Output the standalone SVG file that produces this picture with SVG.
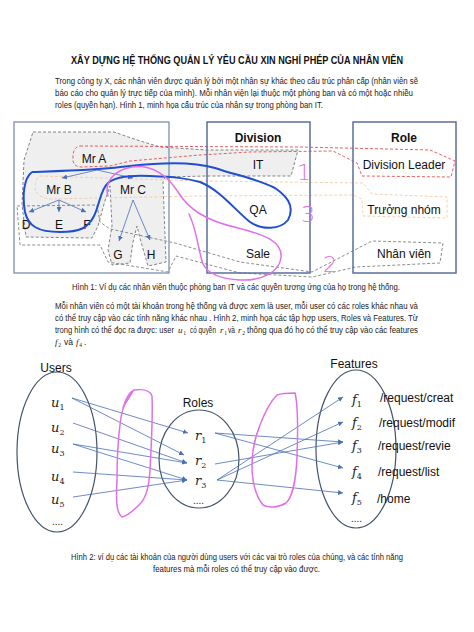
<svg xmlns="http://www.w3.org/2000/svg" width="474" height="632" viewBox="0 0 474 632">
<defs>
<marker id="ah" viewBox="0 0 6 6" refX="6" refY="3" markerUnits="userSpaceOnUse" markerWidth="5" markerHeight="5" orient="auto"><path d="M0,0 L6,3 L0,6 z" fill="#4a6fb5"/></marker>
<style>
.body{font-family:"Liberation Sans",Arial,sans-serif;font-size:8.5px;fill:#222}
.bm{font-family:"Liberation Serif",serif;font-style:italic;font-size:9px;fill:#222}
.bs{font-size:5.5px;font-style:normal}
.cap{font-family:"Liberation Sans",Arial,sans-serif;font-size:8.2px;fill:#222}
.title{font-family:"Liberation Sans",Arial,sans-serif;font-size:10px;font-weight:bold;fill:#111}
.lbl{font-family:"Liberation Sans",Arial,sans-serif;font-size:12px;fill:#111;text-anchor:middle}
.hdr{font-family:"Liberation Sans",Arial,sans-serif;font-size:12px;font-weight:bold;fill:#111;text-anchor:middle}
.math{font-family:"DejaVu Serif","Liberation Serif",serif;font-style:italic;font-size:13px;fill:#222}
.sub{font-size:8px;font-style:normal}
.dots{font-family:"Liberation Sans",Arial,sans-serif;font-size:10px;fill:#222}
.path{font-family:"Liberation Sans",Arial,sans-serif;font-size:12px;fill:#111}
.frame1{fill:none;stroke:#8896b5;stroke-width:1.4}
.frame2{fill:none;stroke:#5a6e9c;stroke-width:1.5}
.ell{fill:none;stroke:#44546a;stroke-width:1.2}
.arr{stroke:#4a6fb5;stroke-width:0.8;fill:none;marker-end:url(#ah)}
.dgray{fill:#efefef;stroke:#5f6670;stroke-width:0.8;stroke-dasharray:3 2}
.dgray2{fill:none;stroke:#6b7568;stroke-width:0.8;stroke-dasharray:3 2}
.dred{fill:none;stroke:#e0383a;stroke-width:0.8;stroke-dasharray:3 2}
.dpeach{fill:none;stroke:#f2c49a;stroke-width:0.8;stroke-dasharray:3 2}
.blue{fill:none;stroke:#1f4fd0;stroke-width:2}
.pink{fill:none;stroke:#e070e8;stroke-width:1.5;stroke-linecap:round}
.pdig{font-family:"DejaVu Sans",sans-serif;font-size:22px;fill:#e070e8;font-weight:200}
</style>
</defs>
<rect width="474" height="632" fill="#fff"/>

<g id="text-top">
<text class="title" x="71" y="64" textLength="332" lengthAdjust="spacingAndGlyphs">XÂY DỰNG HỆ THỐNG QUẢN LÝ YÊU CẦU XIN NGHỈ PHÉP CỦA NHÂN VIÊN</text>
<text class="body" x="55" y="84" textLength="363" lengthAdjust="spacingAndGlyphs">Trong công ty X, các nhân viên được quản lý bởi một nhân sự khác theo cấu trúc phân cấp (nhân viên sẽ</text>
<text class="body" x="55" y="96" textLength="358" lengthAdjust="spacingAndGlyphs">báo cáo cho quản lý trực tiếp của mình). Mỗi nhân viện lại thuộc một phòng ban và có một hoặc nhiều</text>
<text class="body" x="55" y="108" textLength="268" lengthAdjust="spacingAndGlyphs">roles (quyền hạn). Hình 1, minh họa cấu trúc của nhân sự trong phòng ban IT.</text>
</g>

<g id="regions">
<path class="dgray" d="M33,132 L114,132 L134,139 L160,147 L207,150 L298,150 L291,176 L207,176 L165,177 L163,182 L166,262 L148,266 L141,242 L137,226 L133,242 L130,263 L112,265 L108,250 L112,226 L110,186 L104,204 L98,226 L92,238 L26,237 L22,205 L24,160 Z"/>
<path class="dred" d="M80,146 L300,147 L430,150 L455,161 L451,177 L362,176 L357,163 L333,151 L250,152 L200,155 L130,161 L110,166 L80,167 Q72,166 73,157 Q73,147 80,146 Z"/>
<path class="dpeach" d="M40,176 L200,181 L363,183 L372,194 L447,197 L447,218 L363,216 L362,199 L353,195 L200,196 L50,199 Q36,197 35,188 Q36,177 40,176 Z"/>
<path class="dgray2" d="M17,206 L97,205 L100,222 L110,229 L175,243 L240,262 L312,272 L372,241 L443,243 L440,263 L356,267 L312,277 L240,273 L176,256 L168,272 L108,262 L100,245 L20,245 Z"/>
</g>

<g id="frames">
<rect class="frame1" x="14" y="122" width="155" height="151"/>
<rect class="frame2" x="207" y="122" width="103" height="151"/>
<rect class="frame2" x="353" y="122" width="103" height="151"/>
</g>

<g id="connectors-fig1">
<path class="arr" d="M97,170 L62,178"/>
<path class="arr" d="M97,170 L133,178"/>
<path class="arr" d="M59,200 L29,212"/>
<path class="arr" d="M59,200 L59,212"/>
<path class="arr" d="M59,200 L86,212"/>
<path class="arr" d="M133,200 L119,241"/>
<path class="arr" d="M133,200 L150,240"/>
</g>

<g id="node-MrA"><text class="lbl" x="94" y="163">Mr A</text></g>
<g id="node-MrB"><text class="lbl" x="59" y="194">Mr B</text></g>
<g id="node-MrC"><text class="lbl" x="133" y="194">Mr C</text></g>
<g id="node-D"><text class="lbl" x="26" y="229">D</text></g>
<g id="node-E"><text class="lbl" x="59" y="229">E</text></g>
<g id="node-F"><text class="lbl" x="87" y="229">F</text></g>
<g id="node-G"><text class="lbl" x="118" y="259">G</text></g>
<g id="node-H"><text class="lbl" x="151" y="259">H</text></g>

<g id="node-division">
<text class="hdr" x="258" y="142">Division</text>
<text class="lbl" x="258" y="169">IT</text>
<text class="lbl" x="258" y="214">QA</text>
<text class="lbl" x="258" y="258">Sale</text>
</g>
<g id="node-role">
<text class="hdr" x="404" y="142">Role</text>
<text class="lbl" x="404" y="169">Division Leader</text>
<text class="lbl" x="404" y="214">Trưởng nhóm</text>
<text class="lbl" x="404" y="258">Nhân viên</text>
</g>

<g id="handdrawn-fig1">
<path class="blue" d="M32,172 C24,178 22,195 25,212 C28,226 38,232 60,232 C80,232 88,228 94,216 C100,204 100,190 108,183 C115,177 130,175 150,176 C175,177 185,178 200,182 C220,190 235,210 250,222 C262,230 280,230 288,220 C296,205 285,195 275,188 C255,178 235,175 215,168 C195,162 165,162 130,166 C100,170 60,171 32,172"/>
<path class="pink" d="M108,196 C104,182 114,170 132,167 C152,164 168,176 178,192 C188,208 203,220 238,228 C266,235 283,242 281,258 C279,272 262,281 240,280 C222,279 208,274 203,264 C198,250 197,230 189,214"/>
<text class="pdig" x="297" y="180">1</text>
<text class="pdig" x="301" y="222">3</text>
<text class="pdig" x="323" y="272">2</text>
</g>

<g id="text-mid">
<text class="cap" x="72" y="290" textLength="328" lengthAdjust="spacingAndGlyphs">Hình 1: Ví dụ các nhân viên thuộc phòng ban IT và các quyền tương ứng của họ trong hệ thống.</text>
<text class="body" x="55" y="309" textLength="363" lengthAdjust="spacingAndGlyphs">Mỗi nhân viên có một tài khoản trong hệ thống và được xem là user, mỗi user có các roles khác nhau và</text>
<text class="body" x="55" y="321" textLength="363" lengthAdjust="spacingAndGlyphs">có thể truy cập vào các tính năng khác nhau . Hình 2, minh họa các tập hợp users, Roles và Features. Từ</text>
<text class="body" x="55" y="333" textLength="119" lengthAdjust="spacingAndGlyphs">trong hình có thể đọc ra được: user</text>
<text class="bm" x="178" y="333">u<tspan class="bs" dx="0.8" dy="2">1</tspan></text>
<text class="body" x="190" y="333" textLength="26" lengthAdjust="spacingAndGlyphs">có quyền</text>
<text class="bm" x="220" y="333">r<tspan class="bs" dx="0.8" dy="2">1</tspan></text>
<text class="body" x="228" y="333" textLength="7" lengthAdjust="spacingAndGlyphs">và</text>
<text class="bm" x="238" y="333">r<tspan class="bs" dx="0.8" dy="2">2</tspan></text>
<text class="body" x="247" y="333" textLength="171" lengthAdjust="spacingAndGlyphs">thông qua đó họ có thể truy cập vào các features</text>
<text class="bm" x="55" y="345">f<tspan class="bs" dx="0.8" dy="2">2</tspan></text>
<text class="body" x="64" y="345">và</text>
<text class="bm" x="76" y="345">f<tspan class="bs" dx="0.8" dy="2">4</tspan></text>
<text class="body" x="84" y="345">.</text>
</g>

<g id="node-users">
<ellipse class="ell" cx="57" cy="452" rx="40" ry="80"/>
<text class="lbl" x="56" y="372" font-size="11">Users</text>
<text class="math" x="51" y="407">u<tspan class="sub" dy="3">1</tspan></text>
<text class="math" x="51" y="432">u<tspan class="sub" dy="3">2</tspan></text>
<text class="math" x="51" y="453">u<tspan class="sub" dy="3">3</tspan></text>
<text class="math" x="51" y="481">u<tspan class="sub" dy="3">4</tspan></text>
<text class="math" x="51" y="504">u<tspan class="sub" dy="3">5</tspan></text>
<text class="dots" x="52" y="525">....</text>
</g>
<g id="node-roles">
<ellipse class="ell" cx="199" cy="459" rx="40" ry="49"/>
<text class="lbl" x="198" y="407" font-size="11">Roles</text>
<text class="math" x="195" y="440">r<tspan class="sub" dy="3">1</tspan></text>
<text class="math" x="195" y="465">r<tspan class="sub" dy="3">2</tspan></text>
<text class="math" x="195" y="485">r<tspan class="sub" dy="3">3</tspan></text>
<text class="dots" x="193" y="504">....</text>
</g>
<g id="node-features">
<ellipse class="ell" cx="356" cy="449" rx="40" ry="79"/>
<text class="lbl" x="354" y="368" font-size="11">Features</text>
<text class="math" x="352" y="404">f<tspan class="sub" dy="3">1</tspan></text>
<text class="math" x="352" y="427">f<tspan class="sub" dy="3">2</tspan></text>
<text class="math" x="352" y="450">f<tspan class="sub" dy="3">3</tspan></text>
<text class="math" x="352" y="476">f<tspan class="sub" dy="3">4</tspan></text>
<text class="math" x="352" y="502">f<tspan class="sub" dy="3">5</tspan></text>
<text class="dots" x="351" y="522">....</text>
<text class="path" x="380" y="402">/request/creat</text>
<text class="path" x="379" y="427">/request/modif</text>
<text class="path" x="378" y="450">/request/revie</text>
<text class="path" x="378" y="476">/request/list</text>
<text class="path" x="377" y="503">/home</text>
</g>

<g id="connectors-fig2">
<path class="arr" d="M72,398 L188,433"/>
<path class="arr" d="M72,398 L184,455"/>
<path class="arr" d="M73,423 L187,463"/>
<path class="arr" d="M73,444 L187,463"/>
<path class="arr" d="M73,444 L187,480"/>
<path class="arr" d="M73,472 L187,480"/>
<path class="arr" d="M73,497 L187,480"/>
<path class="arr" d="M215,433 L343,442"/>
<path class="arr" d="M215,433 L343,468"/>
<path class="arr" d="M215,464 L343,442"/>
<path class="arr" d="M217,480 L343,397"/>
<path class="arr" d="M217,480 L343,422"/>
<path class="arr" d="M217,480 L343,493"/>
</g>

<g id="handdrawn-fig2">
<path class="pink" d="M123,408 C126,398 130,392 134,390 C142,389 150,390 152,396 C153,420 151,450 150,470 C149,488 146,498 140,504 C134,510 128,516 122,517 C116,512 116,500 117,480 C117,460 118,440 120,425 C121,415 122,410 125,404 L133,391"/>
<path class="pink" d="M277,395 C283,393 290,393 295,393 C298,405 298,430 297,457 C296,480 292,498 286,503 C278,508 268,508 263,505 C255,495 252,480 252,465 C252,448 256,435 260,425 C265,412 270,402 277,395 Z"/>
</g>

<g id="text-bottom">
<text class="cap" x="71" y="560" textLength="332" lengthAdjust="spacingAndGlyphs">Hình 2: ví dụ các tài khoản của người dùng users với các vai trò roles của chúng, và các tính năng</text>
<text class="cap" x="153" y="572" textLength="167" lengthAdjust="spacingAndGlyphs">features mà mỗi roles có thể truy cập vào được.</text>
</g>
</svg>
